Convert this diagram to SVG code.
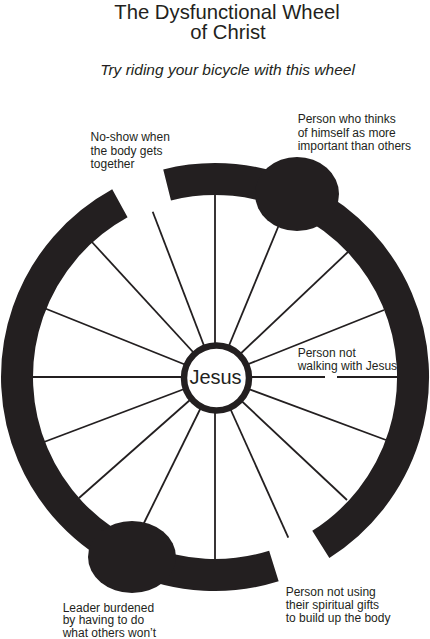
<svg xmlns="http://www.w3.org/2000/svg" width="430" height="639" viewBox="0 0 430 639">
<style>
.t{font-family:"Liberation Sans",Arial,sans-serif;fill:#231f20}
.lbl{font-size:12px}
.rim{fill:none;stroke:#231f20;stroke-width:32;stroke-linecap:butt}
.sp{stroke:#231f20;stroke-width:1.8;fill:none}
.blob{fill:#231f20}
</style>
<rect width="430" height="639" fill="#fff"/>
<g id="title">
<text class="t" font-size="20.3" text-anchor="middle"><tspan x="227" y="18.8">The Dysfunctional Wheel</tspan><tspan x="228" y="39">of Christ</tspan></text>
<text class="t" x="227.5" y="75" font-size="15.5" font-style="italic" text-anchor="middle">Try riding your bicycle with this wheel</text>
</g>
<g id="connectors">
<line class="sp" x1="216" y1="377" x2="325" y2="377"/>
<line class="sp" x1="337" y1="377" x2="398" y2="377"/>
<line class="sp" x1="216" y1="377" x2="384" y2="310"/>
<line class="sp" x1="216" y1="377" x2="349" y2="251"/>
<line class="sp" x1="216" y1="377" x2="281" y2="220"/>
<line class="sp" x1="215" y1="377" x2="215" y2="194"/>
<line class="sp" x1="216" y1="377" x2="152.7" y2="211.7"/>
<line class="sp" x1="216" y1="377" x2="91" y2="241"/>
<line class="sp" x1="216" y1="377" x2="44" y2="308"/>
<line class="sp" x1="216" y1="377" x2="32" y2="377"/>
<line class="sp" x1="216" y1="377" x2="44" y2="442"/>
<line class="sp" x1="216" y1="377" x2="79" y2="498"/>
<line class="sp" x1="216" y1="377" x2="142" y2="527"/>
<line class="sp" x1="215" y1="377" x2="215" y2="560"/>
<line class="sp" x1="216" y1="377" x2="288.3" y2="537.7"/>
<line class="sp" x1="216" y1="377" x2="347" y2="500"/>
<line class="sp" x1="216" y1="377" x2="386" y2="440"/>
</g>
<g id="rim-left">
<path class="rim" d="M119.9,203.3 A198,198 0 0 0 273.9,566"/>
<ellipse class="blob" cx="132" cy="557" rx="44" ry="36"/>
</g>
<g id="rim-right">
<path class="rim" d="M320.8,544.4 A198,198 0 0 0 167.1,184.9"/>
<ellipse class="blob" cx="297" cy="194" rx="42" ry="37"/>
</g>
<g id="hub">
<circle cx="216.5" cy="378" r="32.5" fill="#fff" stroke="#231f20" stroke-width="6.5"/>
<text class="t" x="215.5" y="383.5" font-size="20" text-anchor="middle">Jesus</text>
</g>
<g id="label-noshow">
<text class="t lbl"><tspan x="90.5" y="140.7">No-show when</tspan><tspan x="90.5" y="154.5">the body gets</tspan><tspan x="90.5" y="168.3">together</tspan></text>
</g>
<g id="label-proud">
<text class="t lbl"><tspan x="297.7" y="122.7">Person who thinks</tspan><tspan x="297.7" y="136.5">of himself as more</tspan><tspan x="297.7" y="150.3">important than others</tspan></text>
</g>
<g id="label-walking">
<text class="t lbl"><tspan x="297.7" y="356.5">Person not</tspan><tspan x="297.7" y="370">walking with Jesus</tspan></text>
</g>
<g id="label-gifts">
<text class="t lbl"><tspan x="285.7" y="596">Person not using</tspan><tspan x="285.7" y="609">their spiritual gifts</tspan><tspan x="285.7" y="622">to build up the body</tspan></text>
</g>
<g id="label-leader">
<text class="t lbl"><tspan x="62.7" y="611.5">Leader burdened</tspan><tspan x="62.7" y="624">by having to do</tspan><tspan x="62.7" y="636.5">what others won’t</tspan></text>
</g>
</svg>
